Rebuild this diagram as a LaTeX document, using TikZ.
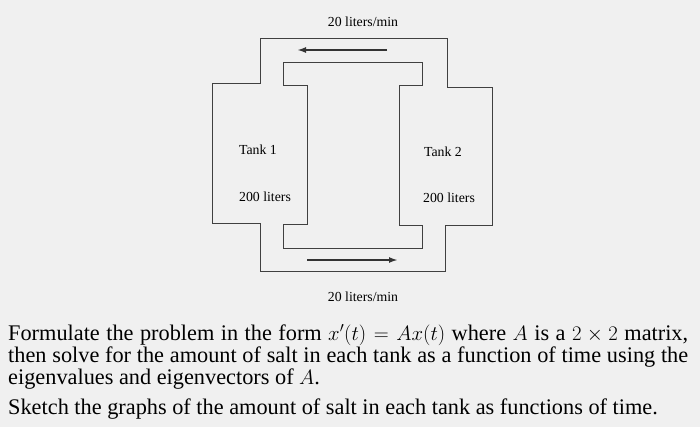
\documentclass[tikz,border=0pt]{standalone}
\usepackage{fontspec}
\setmainfont{Liberation Serif}
\begin{document}
\begin{tikzpicture}[x=1pt,y=-1pt,
  pipe/.style={draw=black!75,line width=0.9pt,line join=miter},
  flow/.style={draw=black!80,line width=2pt,-{Latex[length=9pt,width=6pt]}},
  lab/.style={font=\fontsize{13.8}{16}\selectfont,inner sep=0pt},
  para/.style={font=\fontsize{22.3}{24}\selectfont,anchor=west,inner sep=0pt}]
\usetikzlibrary{arrows.meta}
\fill[gray!12] (0,0) rectangle (700,427);
\useasboundingbox (0,0) rectangle (700,427);
\draw[pipe] (260,38)--(447,38)--(447,87)--(492,87)--(492,225)--(445,225)--(445,271)--(260,271)--(260,223)--(212,223)--(212,83)--(260,83)--cycle;
\draw[pipe] (283,62)--(422,62)--(422,85)--(399,85)--(399,225)--(422,225)--(422,248)--(283,248)--(283,224)--(307,224)--(307,85)--(283,85)--cycle;
\coordinate (t1) at (387,50); \coordinate (t2) at (297,50);
\coordinate (b1) at (307,260); \coordinate (b2) at (398,260);
\draw[flow] (t1)--(t2);
\draw[flow] (b1)--(b2);
\node[lab] (r1) at (363,22) {20 liters/min};
\node[lab] (r2) at (363,297) {20 liters/min};
\node[lab] (a1) at (258,150) {Tank 1};
\node[lab] (a2) at (265,197) {200 liters};
\node[lab] (c1) at (443,152) {Tank 2};
\node[lab] (c2) at (449,198) {200 liters};
\node[para] (p1) at (8,335) {\makebox[680pt][s]{Formulate the problem in the form $x'(t) = Ax(t)$ where $A$ is a $2\times 2$ matrix,}};
\node[para] (p2) at (8,357) {\makebox[680pt][s]{then solve for the amount of salt in each tank as a function of time using the}};
\node[para] (p3) at (8,379) {eigenvalues and eigenvectors of $A$.};
\node[para] (p4) at (8,409) {Sketch the graphs of the amount of salt in each tank as functions of time.};
\end{tikzpicture}
\end{document}
